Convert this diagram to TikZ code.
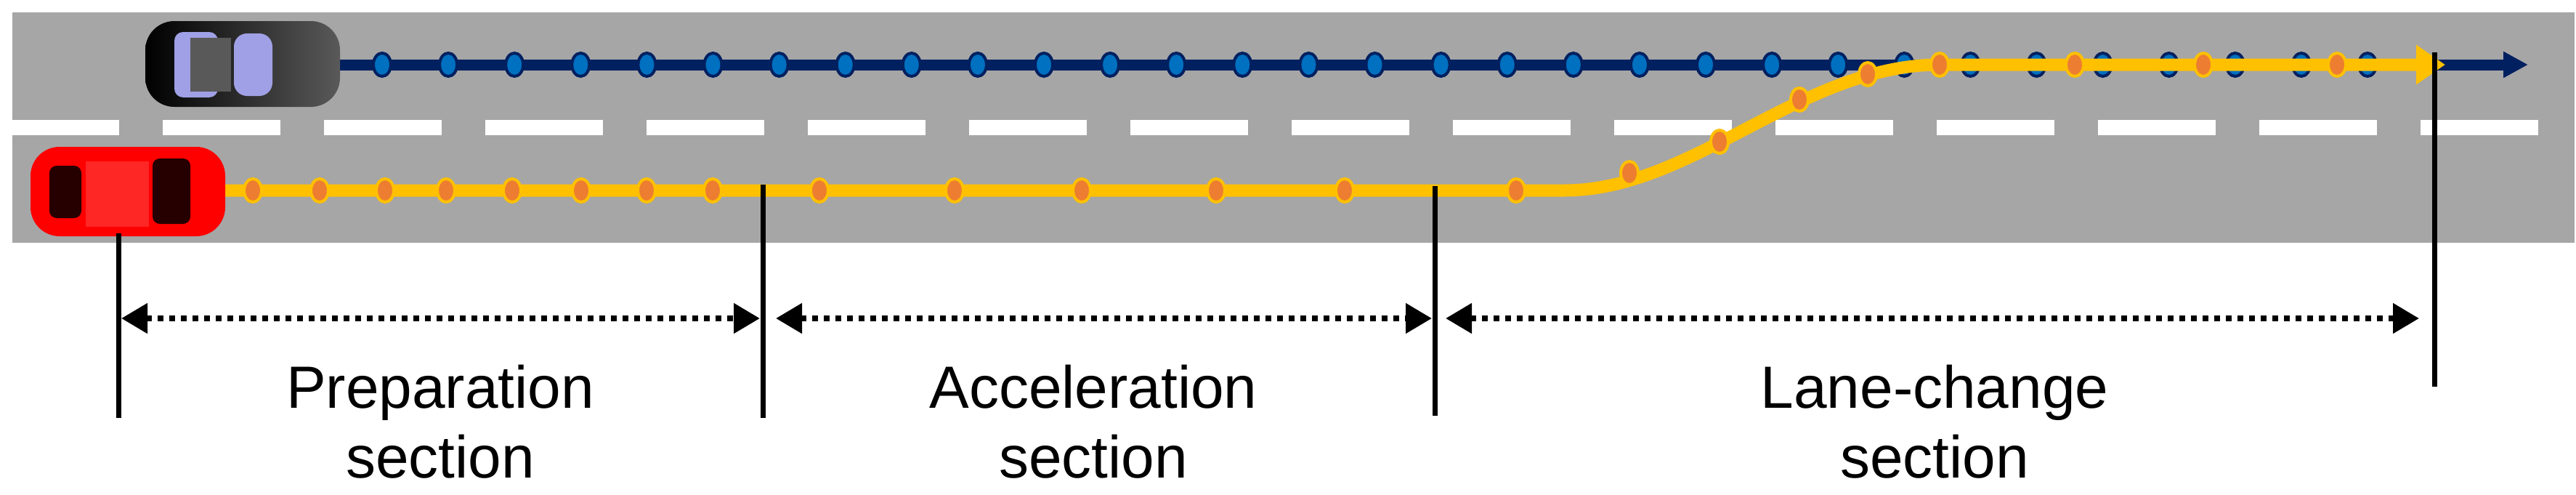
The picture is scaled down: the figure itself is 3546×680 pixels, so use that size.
\documentclass[tikz,border=0pt]{standalone}
\usepackage{fontspec}
\setmainfont{Liberation Sans}
\usetikzlibrary{arrows.meta}
\definecolor{road}{RGB}{166,166,166}
\definecolor{navy}{RGB}{0,32,96}
\definecolor{bdot}{RGB}{0,112,192}
\definecolor{ylw}{RGB}{255,192,0}
\definecolor{odot}{RGB}{237,125,49}
\definecolor{glass}{RGB}{160,160,230}
\tikzset{
  bd/.style={fill=bdot,draw=navy,line width=4pt},
  od/.style={fill=odot,draw=ylw,line width=4pt},
  vline/.style={line width=7pt,black},
  dimarrow/.style={line width=8pt,dash pattern=on 8pt off 8pt,{Triangle[width=40pt,length=36pt]}-{Triangle[width=40pt,length=36pt]}},
  lbl/.style={align=center,font=\fontsize{82}{96}\selectfont}
}
\begin{document}
\begin{tikzpicture}[x=1pt,y=-1pt]
\useasboundingbox (0,0) rectangle (3546,680);
% road
\fill[road] (17,17) rectangle (3544,334);
\foreach \i in {0,...,15}{
  \fill[white] ({max(17,224+222*(\i-1))},165) rectangle ({min(3544,224+222*(\i-1)+162)},186);
}
\fill[white] (17,165) rectangle (164,186);
% blue trajectory
\coordinate (bs) at (468,89);
\coordinate (be) at (3480,89);
\draw[navy,line width=15pt,-{Triangle[width=34pt,length=34pt]}] (bs) -- (be);
\foreach \i in {0,...,30}{
  \path[bd] (526+91.1*\i,89) ellipse (12 and 16);
}
% yellow trajectory
\coordinate (ys) at (310,262);
\coordinate (yc1) at (2154,262);
\coordinate (yc2) at (2670,89);
\coordinate (ye) at (3366,89);
\draw[ylw,line width=17pt,-{Triangle[width=52pt,length=40pt]}] (ys) -- (yc1) .. controls (2330,262) and (2480,89) .. (yc2) -- (ye);
\foreach \p in {(348,262),(440,262),(530,262),(614,262),(705,262),(800,262),(890,262),(981,262),(1128,262),(1314,262),(1489,262),(1674,262),(1851,262),(2087,262),(2243,238),(2367,195),(2477,137),(2571,102),(2670,89),(2856,89),(3033,89),(3217,89)}{
  \path[od] \p ellipse (12 and 16);
}
% gray car
\shade[left color=black,right color=black!65,rounded corners=40pt] (200,29) rectangle (468,147);
\fill[glass,rounded corners=12pt] (240,44) rectangle (300,134);
\fill[black!65] (262,52) rectangle (318,126);
\fill[glass,rounded corners=18pt] (322,46) rectangle (375,132);
% red car
\fill[red,rounded corners=40pt] (42,202) rectangle (310,325);
\fill[black!85!red,rounded corners=10pt] (68,228) rectangle (112,300);
\fill[black!85!red,rounded corners=10pt] (210,218) rectangle (262,308);
\fill[red!85!white] (118,222) rectangle (205,312);
% section markers
\coordinate (v1t) at (163,321); \coordinate (v1b) at (163,575);
\coordinate (v2t) at (1050,254); \coordinate (v2b) at (1050,575);
\coordinate (v3t) at (1975,256); \coordinate (v3b) at (1975,572);
\coordinate (v4t) at (3351,72);  \coordinate (v4b) at (3351,532);
\foreach \n in {1,2,3,4}{\draw[vline] (v\n t) -- (v\n b);}
\coordinate (a1) at (167,438); \coordinate (a2) at (1046,438);
\coordinate (a3) at (1068,438); \coordinate (a4) at (1971,438);
\coordinate (a5) at (1990,438); \coordinate (a6) at (3330,438);
\draw[dimarrow] (a1) -- (a2);
\draw[dimarrow] (a3) -- (a4);
\draw[dimarrow] (a5) -- (a6);
\node[lbl] (t1) at (606,580) {Preparation\\section};
\node[lbl] (t2) at (1505,580) {Acceleration\\section};
\node[lbl] (t3) at (2663,580) {Lane-change\\section};
\end{tikzpicture}
\end{document}
